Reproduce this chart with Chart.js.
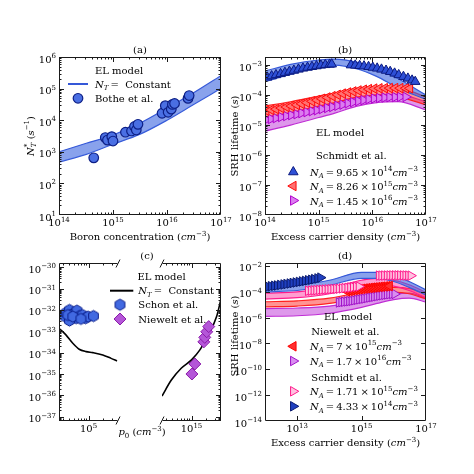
<!DOCTYPE html>
<html>
<head>
<meta charset="utf-8">
<script src="https://cdn.jsdelivr.net/npm/chart.js@4.4.0/dist/chart.umd.min.js"></script>
<style>
  html, body { margin: 0; padding: 0; background: #fff; }
  #wrap { position: relative; width: 474px; height: 474px; overflow: hidden; }
  #wrap canvas { position: absolute; left: 0; top: 0; }
</style>
</head>
<body>
<div id="wrap">
  <canvas id="ca" width="474" height="474"></canvas>
  <canvas id="cb" width="474" height="474"></canvas>
  <canvas id="cl" width="474" height="474"></canvas>
  <canvas id="cr" width="474" height="474"></canvas>
  <canvas id="cd" width="474" height="474"></canvas>
</div>
<script>
'use strict';

// ---- (a) N_T* vs boron concentration
const aBandX  = [1e14, 3.2e14, 1e15, 3.1e15, 1e16, 3e16, 1e17];
const aUpper  = [1000, 1860, 3390, 7940, 24000, 70800, 257000];
const aLower  = [468, 832, 1740, 3550, 10000, 30200, 102000];
const aBotheX = [4.4e14, 7.2e14, 7.9e14, 9.5e14, 1.0e15, 1.7e15, 2.2e15, 2.5e15, 2.7e15, 2.9e15,
                 8.1e15, 9.3e15, 1.05e16, 1.2e16, 1.26e16, 1.38e16, 2.45e16, 2.57e16];
const aBotheY = [645, 2820, 2350, 3020, 2190, 4170, 4570, 6310, 4900, 7410,
                 16600, 28800, 17800, 22400, 31600, 33900, 49000, 60300];
const aXTicks = [1e14, 1e15, 1e16, 1e17];
const aYTicks = [1e1, 1e2, 1e3, 1e4, 1e5, 1e6];

// ---- (b) SRH lifetime, Schmidt et al.
const bBandX   = [1e14, 3e14, 1e15, 2e15, 5e15, 1.2e16, 3e16, 1e17];
const bBlueUp  = [6.3e-4, 1.05e-3, 1.48e-3, 1.58e-3, 1.26e-3, 7.6e-4, 3.55e-4, 1.0e-4];
const bBlueLo  = [2.8e-4, 5.0e-4, 8.3e-4, 1.0e-3, 7.6e-4, 4.2e-4, 1.74e-4, 7.1e-5];
const bRedUp   = [4.3e-5, 6.0e-5, 9.3e-5, 1.17e-4, 1.66e-4, 1.9e-4, 1.78e-4, 8.7e-5];
const bRedLo   = [1.78e-5, 2.6e-5, 4.3e-5, 5.6e-5, 8.5e-5, 1.0e-4, 8.9e-5, 4.7e-5];
const bMagUp   = [1.78e-5, 2.6e-5, 4.2e-5, 5.4e-5, 7.9e-5, 1.02e-4, 1.05e-4, 6.0e-5];
const bMagLo   = [6.3e-6, 1.0e-5, 1.78e-5, 2.5e-5, 4.2e-5, 5.6e-5, 6.0e-5, 3.2e-5];
const bBlueX = [1.1e14, 1.33e14, 1.6e14, 1.95e14, 2.35e14, 2.85e14, 3.45e14, 4.2e14, 5.1e14, 6.2e14,
                7.5e14, 9.1e14, 1.1e15, 1.33e15, 1.6e15, 1.75e15, 4.0e15, 4.8e15, 5.8e15, 7.0e15,
                8.5e15, 1.02e16, 1.23e16, 1.48e16, 1.8e16, 2.15e16, 2.6e16, 3.1e16, 3.8e16, 4.6e16,
                5.5e16, 6.3e16];
const bBlueY = [3.9e-4, 4.3e-4, 4.7e-4, 5.1e-4, 5.6e-4, 6.1e-4, 6.6e-4, 7.2e-4, 7.8e-4, 8.3e-4,
                8.8e-4, 9.3e-4, 9.8e-4, 1.02e-3, 1.05e-3, 1.07e-3, 1.0e-3, 9.8e-4, 9.5e-4, 9.2e-4,
                8.8e-4, 8.3e-4, 7.8e-4, 7.2e-4, 6.6e-4, 6.0e-4, 5.3e-4, 4.7e-4, 4.1e-4, 3.6e-4,
                3.1e-4, 2.8e-4];
const bRedX = [1.05e14, 1.3e14, 1.6e14, 2.0e14, 2.5e14, 3.1e14, 3.9e14, 4.8e14, 6.0e14, 7.5e14,
               9.3e14, 1.15e15, 1.45e15, 1.8e15, 2.25e15, 2.8e15, 3.5e15, 4.4e15, 5.5e15, 6.9e15,
               8.6e15, 1.08e16, 1.35e16, 1.7e16, 2.1e16, 2.65e16, 3.3e16, 4.2e16, 5.0e16];
const bRedY = [3.0e-5, 3.2e-5, 3.4e-5, 3.7e-5, 4.0e-5, 4.3e-5, 4.7e-5, 5.1e-5, 5.6e-5, 6.2e-5,
               6.8e-5, 7.5e-5, 8.3e-5, 9.2e-5, 1.02e-4, 1.12e-4, 1.22e-4, 1.32e-4, 1.42e-4, 1.51e-4,
               1.58e-4, 1.64e-4, 1.68e-4, 1.7e-4, 1.71e-4, 1.71e-4, 1.7e-4, 1.69e-4, 1.68e-4];
const bMagX = [1.05e14, 1.3e14, 1.6e14, 2.0e14, 2.5e14, 3.1e14, 3.9e14, 4.8e14, 6.0e14, 7.5e14,
               9.3e14, 1.15e15, 1.45e15, 1.8e15, 2.25e15, 2.8e15, 3.5e15, 4.4e15, 5.5e15, 6.9e15,
               8.6e15, 1.08e16, 1.35e16, 1.7e16, 2.1e16, 2.65e16, 3.3e16, 4.2e16];
const bMagY = [1.5e-5, 1.6e-5, 1.7e-5, 1.85e-5, 2.0e-5, 2.15e-5, 2.3e-5, 2.5e-5, 2.7e-5, 2.9e-5,
               3.1e-5, 3.4e-5, 3.7e-5, 4.0e-5, 4.4e-5, 4.8e-5, 5.3e-5, 5.8e-5, 6.3e-5, 6.8e-5,
               7.3e-5, 7.7e-5, 8.0e-5, 8.3e-5, 8.5e-5, 8.6e-5, 8.7e-5, 8.7e-5];
const bYTicks = [1e-8, 1e-7, 1e-6, 1e-5, 1e-4, 1e-3];

// ---- (c) broken p0 axis
const cLineLX = [2.51e4, 3.47e4, 4.79e4, 6.46e4, 8.91e4, 1.23e5, 1.95e5, 2.88e5, 3.8e5];
const cLineLY = [1.38e-33, 6.8e-34, 2.75e-34, 1.45e-34, 1.12e-34, 1.0e-34, 7.8e-35, 5.4e-35, 4.1e-35];
const cSchonX = [3.2e4, 3.5e4, 4.1e4, 4.4e4, 5.1e4, 5.6e4, 5.8e4, 6.5e4, 7.6e4, 8.7e4, 9.8e4, 1.26e5,
                 4.1e4, 3.8e4, 4.8e4, 7.0e4];
const cSchonY = [5.2e-33, 7.4e-33, 1.0e-32, 5.8e-33, 6.9e-33, 4.1e-33, 9.3e-33, 5.2e-33, 5.8e-33,
                 4.1e-33, 4.9e-33, 5.2e-33, 3.2e-33, 5.8e-33, 4.9e-33, 3.8e-33];
const cLineRX = [2.51e14, 3.89e14, 6.17e14, 1.0e15, 1.48e15, 2.19e15, 3.24e15, 3.98e15];
const cLineRY = [9.3e-37, 5.2e-36, 1.86e-35, 4.6e-35, 1.35e-34, 6.8e-34, 4.9e-33, 3.3e-32];
const cNiewX  = [1.02e15, 1.17e15, 1.78e15, 1.86e15, 2.04e15, 2.24e15];
const cNiewY  = [1.0e-35, 2.95e-35, 3.2e-34, 5.2e-34, 9.5e-34, 1.66e-33];
const cYTicks  = [1e-37, 1e-36, 1e-35, 1e-34, 1e-33, 1e-32, 1e-31, 1e-30];
const cLXTicks = [1e5];
const cRXTicks = [1e15];

// ---- (d) SRH lifetime, Niewelt / Schmidt
const dBandX  = [1e12, 1e13, 1e14, 1e15, 3e15, 1e16, 3e16, 1e17];
const dBlueUp = [2.5e-4, 3.2e-4, 7.9e-4, 3.2e-3, 3.2e-3, 1.8e-3, 6.3e-4, 1.4e-4];
const dBlueLo = [1.0e-4, 1.26e-4, 3.2e-4, 1.1e-3, 1.1e-3, 6.3e-4, 2.2e-4, 5.6e-5];
const dPinkUp = [7.9e-5, 1.0e-4, 2.0e-4, 7.9e-4, 1.1e-3, 7.9e-4, 3.5e-4, 8.9e-5];
const dPinkLo = [2.75e-5, 3.5e-5, 7.1e-5, 2.8e-4, 4.0e-4, 2.8e-4, 1.26e-4, 3.5e-5];
const dRedUp  = [1.7e-5, 2.0e-5, 3.2e-5, 1.0e-4, 1.8e-4, 2.2e-4, 1.8e-4, 7.1e-5];
const dRedLo  = [6.9e-6, 7.9e-6, 1.26e-5, 4.0e-5, 7.1e-5, 8.9e-5, 7.1e-5, 2.8e-5];
const dMagUp  = [5.0e-6, 5.6e-6, 7.9e-6, 2.0e-5, 3.5e-5, 6.3e-5, 7.9e-5, 3.2e-5];
const dMagLo  = [1.26e-6, 1.4e-6, 2.2e-6, 6.3e-6, 1.26e-5, 2.5e-5, 3.2e-5, 1.6e-5];
const dBlueX = [1.0e12, 1.25e12, 1.55e12, 1.95e12, 2.4e12, 3.0e12, 3.8e12, 4.7e12, 5.9e12, 7.3e12,
                9.1e12, 1.14e13, 1.42e13, 1.77e13, 2.2e13, 2.75e13, 3.4e13, 4.3e13, 5.3e13];
const dBlueY = [2.3e-4, 2.5e-4, 2.7e-4, 2.9e-4, 3.1e-4, 3.4e-4, 3.7e-4, 4.0e-4, 4.4e-4, 4.8e-4,
                5.3e-4, 5.8e-4, 6.4e-4, 7.0e-4, 7.8e-4, 8.6e-4, 9.6e-4, 1.08e-3, 1.25e-3];
const dPinkX = [2.2e13, 2.7e13, 3.3e13, 4.0e13, 4.9e13, 6.0e13, 7.3e13, 9.0e13, 1.1e14, 1.35e14,
                1.65e14, 2.0e14, 2.5e14, 3.0e14, 3.7e14, 4.5e14, 5.5e14, 6.8e14, 8.3e14,
                3.5e15, 4.2e15, 5.1e15, 6.2e15, 7.5e15, 9.1e15, 1.1e16, 1.33e16, 1.6e16, 1.95e16,
                2.35e16, 2.85e16, 3.4e16];
const dPinkY = [1.2e-4, 1.25e-4, 1.3e-4, 1.35e-4, 1.4e-4, 1.45e-4, 1.5e-4, 1.55e-4, 1.6e-4, 1.65e-4,
                1.7e-4, 1.75e-4, 1.85e-4, 1.95e-4, 2.05e-4, 2.15e-4, 2.3e-4, 2.45e-4, 2.6e-4,
                1.8e-3, 1.8e-3, 1.82e-3, 1.83e-3, 1.85e-3, 1.86e-3, 1.87e-3, 1.87e-3, 1.86e-3, 1.85e-3,
                1.83e-3, 1.8e-3, 1.78e-3];
const dRedX = [3.5e14, 4.2e14, 5.0e14, 6.0e14, 7.2e14, 8.6e14, 1.03e15, 1.23e15, 1.47e15, 1.76e15,
               2.1e15, 2.5e15, 3.0e15, 3.6e15, 4.3e15, 5.2e15, 6.2e15, 7.4e15];
const dRedY = [1.1e-4, 1.2e-4, 1.3e-4, 1.4e-4, 1.5e-4, 1.6e-4, 1.7e-4, 1.8e-4, 1.9e-4, 2.0e-4,
               2.1e-4, 2.2e-4, 2.3e-4, 2.4e-4, 2.5e-4, 2.6e-4, 2.7e-4, 2.8e-4];
const dMagX = [2.0e14, 2.4e14, 2.9e14, 3.5e14, 4.2e14, 5.0e14, 6.0e14, 7.2e14, 8.6e14, 1.03e15,
               1.23e15, 1.47e15, 1.76e15, 2.1e15, 2.5e15, 3.0e15, 3.6e15, 4.3e15, 5.2e15, 6.2e15,
               7.4e15, 8.9e15, 1.07e16];
const dMagY = [1.5e-5, 1.6e-5, 1.7e-5, 1.8e-5, 1.9e-5, 2.0e-5, 2.2e-5, 2.4e-5, 2.6e-5, 2.8e-5,
               3.0e-5, 3.3e-5, 3.6e-5, 3.9e-5, 4.2e-5, 4.6e-5, 5.0e-5, 5.4e-5, 5.8e-5, 6.2e-5,
               6.5e-5, 6.7e-5, 6.8e-5];
const dXTicks = [1e13, 1e15, 1e17];
const dYTicks = [1e-14, 1e-12, 1e-10, 1e-8, 1e-6, 1e-4, 1e-2];

// ---- styles
const FONT = '"DejaVu Serif", serif';
const FS = 10, FSS = 7;

function hexCanvas(r, fill, edge) {
  const s = Math.ceil(2 * r + 3), c = document.createElement('canvas');
  c.width = c.height = s;
  const g = c.getContext('2d');
  g.beginPath();
  for (let i = 0; i < 6; i++) {
    const a = Math.PI / 3 * i - Math.PI / 2;
    const px = s / 2 + r * Math.cos(a), py = s / 2 + r * Math.sin(a);
    i ? g.lineTo(px, py) : g.moveTo(px, py);
  }
  g.closePath();
  g.fillStyle = fill; g.fill();
  g.strokeStyle = edge; g.lineWidth = 1; g.stroke();
  return c;
}

const BAND = {
  blue: { edge: '#3558d8', fill: 'rgba(65,105,225,0.62)' },
  red:  { edge: '#ff2020', fill: 'rgba(255,40,40,0.5)' },
  mag:  { edge: '#c02cd4', fill: 'rgba(190,50,215,0.5)' },
  pink: { edge: '#ff1a8c', fill: 'rgba(255,40,150,0.45)' },
};

const M = {
  bothe: { style: 'circle', r: 4.8, fill: '#4a6fe3', edge: '#0d1f86', bw: 1.2 },
  bBlue: { style: 'triangle', r: 5.5, rot: 0, fill: '#2e50d6', edge: '#0b1a80', bw: 1 },
  bRed:  { style: 'triangle', r: 5.5, rot: -90, fill: '#ff7070', edge: '#ff0a0a', bw: 1 },
  bMag:  { style: 'triangle', r: 5.5, rot: 90, fill: '#dc7cf0', edge: '#b000cc', bw: 1 },
  schon: { style: hexCanvas(5.6, '#4169e1', '#0b1f8c'), r: 6, fill: '#4169e1', edge: '#0b1f8c', bw: 1 },
  niew:  { style: 'rectRot', r: 6, fill: '#b456d8', edge: '#8a1aa8', bw: 1 },
  dRed:  { style: 'triangle', r: 5.5, rot: -90, fill: '#ff3030', edge: '#ff0000', bw: 1 },
  dMag:  { style: 'triangle', r: 5.5, rot: 90, fill: '#d98ef0', edge: '#a010c8', bw: 1 },
  dPink: { style: 'triangle', r: 5.5, rot: 90, fill: '#ffc2e0', edge: '#ff1a8c', bw: 1 },
  dBlue: { style: 'triangle', r: 5.5, rot: 90, fill: '#2040c0', edge: '#0a1a70', bw: 1 },
};

// ---- dataset builders
function pts(xs, ys) { return xs.map((x, i) => ({ x, y: ys[i] })); }

function band(xs, up, lo, c) {
  const base = { borderColor: c.edge, borderWidth: 1.2, pointRadius: 0, cubicInterpolationMode: 'monotone', order: 5 };
  return [
    { ...base, data: pts(xs, up), backgroundColor: c.fill, fill: '+1' },
    { ...base, data: pts(xs, lo), fill: false },
  ];
}

function marks(xs, ys, m) {
  return {
    data: pts(xs, ys), showLine: false, order: 0,
    pointStyle: m.style, pointRadius: m.r, pointRotation: m.rot || 0,
    pointBackgroundColor: m.fill, pointBorderColor: m.edge, pointBorderWidth: m.bw,
  };
}

function curve(xs, ys, color) {
  return { data: pts(xs, ys), borderColor: color, borderWidth: 1.6, pointRadius: 0,
           cubicInterpolationMode: 'monotone', fill: false, order: 4 };
}

function make(id, box, datasets, xr, yr, decor) {
  return new Chart(document.getElementById(id), {
    type: 'line',
    data: { datasets },
    options: {
      responsive: false, animation: false, events: [],
      layout: { padding: { left: box[0], top: box[1], right: 474 - box[2], bottom: 474 - box[3] } },
      plugins: { legend: { display: false }, tooltip: { enabled: false }, title: { display: false } },
      scales: {
        x: { type: 'logarithmic', min: xr[0], max: xr[1], display: false },
        y: { type: 'logarithmic', min: yr[0], max: yr[1], display: false },
      },
    },
    plugins: [{ id: 'decor_' + id, afterDraw: decor }],
  });
}

// ---- drawing helpers (text, frame, ticks)
function segFont(k) {
  const small = k[0] === 'p' || k[0] === 'b';
  const it = k.indexOf('i') >= 0;
  return (it ? 'italic ' : '') + (small ? FSS : FS) + 'px ' + FONT;
}

function segWidth(ctx, t, k) {
  if (k === 's') {
    const [a, b] = t.split('|');
    ctx.font = segFont('p'); const wa = ctx.measureText(a).width;
    ctx.font = segFont('bi'); return Math.max(wa, ctx.measureText(b).width);
  }
  ctx.font = segFont(k);
  return ctx.measureText(t).width;
}

// segs: [text, kind]; kind r=roman i=italic p=sup b=sub (pi/bi italic), s='sup|sub' stacked
function rich(ctx, segs, x, y, align) {
  const ws = segs.map(([t, k]) => segWidth(ctx, t, k));
  const total = ws.reduce((a, b) => a + b, 0);
  let cx = align === 'center' ? x - total / 2 : align === 'right' ? x - total : x;
  ctx.textAlign = 'left';
  ctx.textBaseline = 'alphabetic';
  ctx.fillStyle = '#000';
  segs.forEach(([t, k], i) => {
    if (k === 's') {
      const [a, b] = t.split('|');
      ctx.font = segFont('p');  ctx.fillText(a, cx, y - 4.5);
      ctx.font = segFont('bi'); ctx.fillText(b, cx, y + 2.5);
    } else {
      ctx.font = segFont(k);
      const dy = k[0] === 'p' ? -4.5 : k[0] === 'b' ? 2.5 : 0;
      ctx.fillText(t, cx, y + dy);
    }
    cx += ws[i];
  });
}

function vrich(ctx, segs, x, y) {
  ctx.save();
  ctx.translate(x, y);
  ctx.rotate(-Math.PI / 2);
  rich(ctx, segs, 0, 0, 'center');
  ctx.restore();
}

function pow(ctx, x, y, v, align) {
  const e = Math.round(Math.log10(v));
  rich(ctx, [['10', 'r'], [(e < 0 ? '\u2212' : '') + Math.abs(e), 'p']], x, y, align);
}

function logMinor(min, max) {
  const out = [];
  for (let n = Math.floor(Math.log10(min)); n <= Math.ceil(Math.log10(max)); n++) {
    for (let k = 2; k < 10; k++) {
      const v = k * Math.pow(10, n);
      if (v >= min && v <= max) out.push(v);
    }
  }
  return out;
}

function frame(ctx, A, sides) {
  ctx.strokeStyle = '#1a1a1a';
  ctx.lineWidth = 1;
  ctx.beginPath();
  const l = A.left + 0.5, r = A.right - 0.5, t = A.top + 0.5, b = A.bottom - 0.5;
  if (sides.includes('t')) { ctx.moveTo(l, t); ctx.lineTo(r, t); }
  if (sides.includes('b')) { ctx.moveTo(l, b); ctx.lineTo(r, b); }
  if (sides.includes('l')) { ctx.moveTo(l, t); ctx.lineTo(l, b); }
  if (sides.includes('r')) { ctx.moveTo(r, t); ctx.lineTo(r, b); }
  ctx.stroke();
}

function ticks(ctx, A, sc, vals, len, sides) {
  ctx.strokeStyle = '#1a1a1a';
  ctx.lineWidth = 1;
  ctx.beginPath();
  vals.forEach(v => {
    const p = Math.round(sc.getPixelForValue(v)) + 0.5;
    if (sides.includes('t') || sides.includes('b')) {
      if (p < A.left || p > A.right) return;
      if (sides.includes('b')) { ctx.moveTo(p, A.bottom); ctx.lineTo(p, A.bottom - len); }
      if (sides.includes('t')) { ctx.moveTo(p, A.top); ctx.lineTo(p, A.top + len); }
    } else {
      if (p < A.top || p > A.bottom) return;
      if (sides.includes('l')) { ctx.moveTo(A.left, p); ctx.lineTo(A.left + len, p); }
      if (sides.includes('r')) { ctx.moveTo(A.right, p); ctx.lineTo(A.right - len, p); }
    }
  });
  ctx.stroke();
}

function axis(ctx, A, sc, majors, sides, minor) {
  ticks(ctx, A, sc, majors, 5, sides);
  if (minor) ticks(ctx, A, sc, logMinor(sc.min, sc.max), 2.5, sides);
}

function marker(ctx, x, y, m) {
  ctx.save();
  ctx.fillStyle = m.fill;
  ctx.strokeStyle = m.edge;
  ctx.lineWidth = m.bw;
  Chart.helpers.drawPoint(ctx, { pointStyle: m.style, rotation: m.rot || 0, radius: m.r, borderWidth: m.bw }, x, y);
  ctx.restore();
}

function naLabel(m, e) {
  return [['N', 'i'], ['A', 'bi'], ['\u2009=\u2009' + m + '\u2009\u00d7\u200910', 'r'], [e, 'p'], ['cm', 'i'], ['\u22123', 'p']];
}

const CM3 = [['(', 'r'], ['cm', 'i'], ['\u22123', 'p'], [')', 'r']];

// ---- panel decorations
function decorA(chart) {
  const { ctx, chartArea: A, scales: { x, y } } = chart;
  ctx.save();
  frame(ctx, A, 'tblr');
  axis(ctx, A, x, aXTicks, 'tb', true);
  axis(ctx, A, y, aYTicks, 'lr', true);
  aXTicks.forEach(v => pow(ctx, x.getPixelForValue(v), A.bottom + 11, v, 'center'));
  aYTicks.forEach(v => pow(ctx, A.left - 3, y.getPixelForValue(v) + 5.5, v, 'right'));
  rich(ctx, [['(a)', 'r']], 140, 52.5, 'center');
  rich(ctx, [['Boron concentration ', 'r'], ...CM3], 140, 240, 'center');
  vrich(ctx, [['N', 'i'], ['*|T', 's'], [' (', 'r'], ['s', 'i'], ['\u22121', 'p'], [')', 'r']], 33.5, 136);
  rich(ctx, [['EL model', 'r']], 95, 74, 'left');
  ctx.strokeStyle = BAND.blue.edge; ctx.lineWidth = 2;
  ctx.beginPath(); ctx.moveTo(68, 84); ctx.lineTo(88, 84); ctx.stroke();
  rich(ctx, [['N', 'i'], ['T', 'bi'], ['\u2009=  Constant', 'r']], 95, 87.5, 'left');
  marker(ctx, 78, 98.3, M.bothe);
  rich(ctx, [['Bothe et al.', 'r']], 95, 101.7, 'left');
  ctx.restore();
}

function decorB(chart) {
  const { ctx, chartArea: A, scales: { x, y } } = chart;
  ctx.save();
  frame(ctx, A, 'tblr');
  axis(ctx, A, x, aXTicks, 'tb', true);
  axis(ctx, A, y, bYTicks, 'lr', true);
  aXTicks.forEach(v => pow(ctx, x.getPixelForValue(v), A.bottom + 11, v, 'center'));
  bYTicks.forEach(v => pow(ctx, A.left - 3, y.getPixelForValue(v) + 5.5, v, 'right'));
  rich(ctx, [['(b)', 'r']], 345, 52.5, 'center');
  rich(ctx, [['Excess carrier density ', 'r'], ...CM3], 345.5, 240, 'center');
  vrich(ctx, [['SRH lifetime (', 'r'], ['s', 'i'], [')', 'r']], 237.5, 136);
  rich(ctx, [['EL model', 'r']], 316, 136, 'left');
  rich(ctx, [['Schmidt et al.', 'r']], 316, 159, 'left');
  marker(ctx, 293.3, 172, M.bBlue);
  rich(ctx, naLabel('9.65', '14'), 310, 175.5, 'left');
  marker(ctx, 293.3, 186, M.bRed);
  rich(ctx, naLabel('8.26', '15'), 310, 190, 'left');
  marker(ctx, 293.3, 200.5, M.bMag);
  rich(ctx, naLabel('1.45', '16'), 310, 204.5, 'left');
  ctx.restore();
}

function breakMark(ctx, x, y) {
  ctx.moveTo(x - 2, y + 4);
  ctx.lineTo(x + 2, y - 4);
}

function decorCL(chart) {
  const { ctx, chartArea: A, scales: { x, y } } = chart;
  ctx.save();
  frame(ctx, A, 'tbl');
  axis(ctx, A, x, cLXTicks, 'tb', true);
  axis(ctx, A, y, cYTicks, 'l', true);
  ctx.beginPath();
  breakMark(ctx, A.right, A.top + 0.5);
  breakMark(ctx, A.right, A.bottom - 0.5);
  ctx.stroke();
  cLXTicks.forEach(v => pow(ctx, x.getPixelForValue(v), A.bottom + 11, v, 'center'));
  cYTicks.forEach(v => pow(ctx, A.left - 3, y.getPixelForValue(v) + 5.5, v, 'right'));
  ctx.restore();
}

function decorCR(chart) {
  const { ctx, chartArea: A, scales: { x, y } } = chart;
  ctx.save();
  frame(ctx, A, 'tbr');
  axis(ctx, A, x, cRXTicks, 'tb', true);
  axis(ctx, A, y, cYTicks, 'r', true);
  ctx.beginPath();
  breakMark(ctx, A.left, A.top + 0.5);
  breakMark(ctx, A.left, A.bottom - 0.5);
  ctx.stroke();
  cRXTicks.forEach(v => pow(ctx, x.getPixelForValue(v), A.bottom + 11, v, 'center'));
  rich(ctx, [['(c)', 'r']], 147, 259, 'center');
  rich(ctx, [['p', 'i'], ['0', 'b'], [' ', 'r'], ...CM3], 142, 435, 'center');
  rich(ctx, [['EL model', 'r']], 137.5, 280, 'left');
  ctx.strokeStyle = '#000'; ctx.lineWidth = 2;
  ctx.beginPath(); ctx.moveTo(110, 290.7); ctx.lineTo(133.3, 290.7); ctx.stroke();
  rich(ctx, [['N', 'i'], ['T', 'bi'], ['\u2009=  Constant', 'r']], 138.3, 294, 'left');
  marker(ctx, 120, 304.7, M.schon);
  rich(ctx, [['Schon et al.', 'r']], 138.3, 308.3, 'left');
  marker(ctx, 120, 319, M.niew);
  rich(ctx, [['Niewelt et al.', 'r']], 138.3, 322.5, 'left');
  ctx.restore();
}

function decorD(chart) {
  const { ctx, chartArea: A, scales: { x, y } } = chart;
  ctx.save();
  frame(ctx, A, 'tblr');
  axis(ctx, A, x, dXTicks, 'tb', false);
  axis(ctx, A, y, dYTicks, 'lr', false);
  dXTicks.forEach(v => pow(ctx, x.getPixelForValue(v), A.bottom + 11, v, 'center'));
  dYTicks.forEach(v => pow(ctx, A.left - 3, y.getPixelForValue(v) + 5.5, v, 'right'));
  rich(ctx, [['(d)', 'r']], 345, 258.5, 'center');
  rich(ctx, [['Excess carrier density ', 'r'], ...CM3], 345.5, 446, 'center');
  vrich(ctx, [['SRH lifetime (', 'r'], ['s', 'i'], [')', 'r']], 237.5, 336);
  rich(ctx, [['EL model', 'r']], 324, 320, 'left');
  rich(ctx, [['Niewelt et al.', 'r']], 311.3, 334.7, 'left');
  marker(ctx, 293.3, 346.3, M.dRed);
  rich(ctx, naLabel('7', '15'), 310, 349.8, 'left');
  marker(ctx, 293.3, 361, M.dMag);
  rich(ctx, naLabel('1.7', '16'), 310, 364.5, 'left');
  rich(ctx, [['Schmidt et al.', 'r']], 311.3, 380.5, 'left');
  marker(ctx, 293.3, 391.3, M.dPink);
  rich(ctx, naLabel('1.71', '15'), 310, 395, 'left');
  marker(ctx, 293.3, 406.3, M.dBlue);
  rich(ctx, naLabel('4.33', '14'), 310, 410, 'left');
  ctx.restore();
}

// ---- charts
make('ca', [59, 57, 221, 215], [
  marks(aBotheX, aBotheY, M.bothe),
  ...band(aBandX, aUpper, aLower, BAND.blue),
], [1e14, 1e17], [1e1, 1e6], decorA);

make('cb', [265, 57, 426, 215], [
  marks(bBlueX, bBlueY, M.bBlue),
  marks(bRedX, bRedY, M.bRed),
  marks(bMagX, bMagY, M.bMag),
  ...band(bBandX, bBlueUp, bBlueLo, BAND.blue),
  ...band(bBandX, bRedUp, bRedLo, BAND.red),
  ...band(bBandX, bMagUp, bMagLo, BAND.mag),
], [1e14, 1e17], [1e-8, 1.86e-3], decorB);

make('cl', [59, 263, 118, 421], [
  marks(cSchonX, cSchonY, M.schon),
  curve(cLineLX, cLineLY, '#000'),
], [2.51e4, 3.98e5], [6.3e-38, 1.58e-30], decorCL);

make('cr', [162, 263, 221, 421], [
  marks(cNiewX, cNiewY, M.niew),
  curve(cLineRX, cLineRY, '#000'),
], [2.51e14, 3.98e15], [6.3e-38, 1.58e-30], decorCR);

make('cd', [265, 263, 426, 421], [
  marks(dBlueX, dBlueY, M.dBlue),
  marks(dPinkX, dPinkY, M.dPink),
  marks(dRedX, dRedY, M.dRed),
  marks(dMagX, dMagY, M.dMag),
  ...band(dBandX, dBlueUp, dBlueLo, BAND.blue),
  ...band(dBandX, dPinkUp, dPinkLo, BAND.pink),
  ...band(dBandX, dRedUp, dRedLo, BAND.red),
  ...band(dBandX, dMagUp, dMagLo, BAND.mag),
], [1e12, 1e17], [1e-14, 1.7e-2], decorD);
</script>
</body>
</html>
